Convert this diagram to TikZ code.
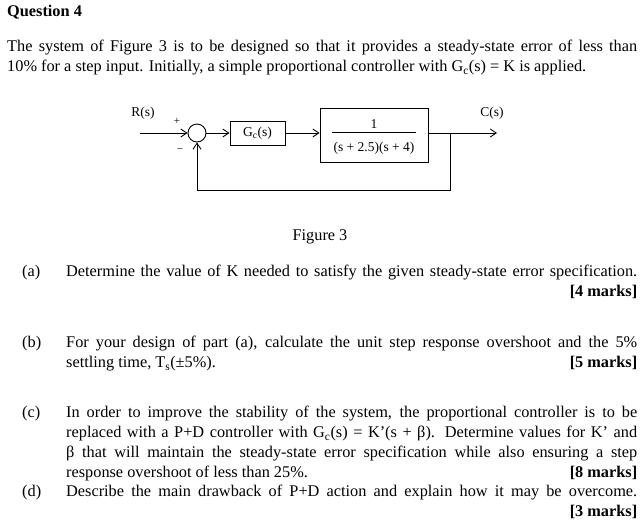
\documentclass[tikz,border=0pt]{standalone}
\usepackage{fontspec}
\setmainfont{Liberation Serif}
\usetikzlibrary{arrows.meta}
\begin{document}
\begin{tikzpicture}[x=1pt,y=-1pt,
  blk/.style={draw,line width=0.8pt,inner sep=0pt},
  ln/.style={line width=0.9pt},
  ar/.style={ln,-{Straight Barb[length=6pt,width=8pt]}},
  lab/.style={font=\fontsize{13.5}{15}\selectfont,inner sep=0pt},
  txt/.style={anchor=north west,inner sep=0pt,align=justify,font=\fontsize{16.3}{20}\selectfont}]
\useasboundingbox (0,0) rectangle (644,523);
\node[anchor=west,inner sep=0pt,font=\fontsize{16.3}{18}\selectfont\bfseries] (q) at (7,12) {Question 4};
\node[txt,text width=630pt] (p) at (7,40) {The system of Figure 3 is to be designed so that it provides a steady-state error of less than\linebreak 10\% for a step input. Initially, a simple proportional controller with G\textsubscript{c}(s) = K is applied.};
% diagram
\node[draw,circle,ln,minimum size=18pt,inner sep=0pt] (sum) at (197,133) {};
\node[blk,minimum width=55pt,minimum height=24pt,lab] (gc) at (257.5,133) {G\textsubscript{c}(s)};
\node[blk,minimum width=108pt,minimum height=54pt] (g) at (374,135) {};
\node[lab] (num) at (374,124) {1};
\node[lab] (den) at (374,148) {(s + 2.5)(s + 4)};
\draw[line width=0.6pt] (num.south) ++(-42,4) coordinate (fa) -- ++(84,0) coordinate (fb);
\coordinate (in) at (140,133);
\coordinate (out) at (497,133);
\coordinate (br) at (450,133);
\coordinate (bb) at (450,190);
\coordinate (bl) at (197,190);
\node[lab] (R) at (143,113) {R(s)};
\node[lab] (C) at (492,113) {C(s)};
\node[lab,font=\fontsize{11}{12}\selectfont] (plus) at (177,121) {+};
\node[lab,font=\fontsize{11}{12}\selectfont] (minus) at (180,151) {\textminus};
\draw[ar] (in) -- (sum.west);
\draw[ar] (sum.east) -- (gc.west);
\draw[ar] (gc.east) -- (g.west|-gc.east);
\draw[ar] (g.east|-br) -- (out);
\draw[ar] (br) -- (bb) -- (bl) -- (sum.south);
\node[inner sep=0pt,font=\fontsize{16.3}{18}\selectfont] (fig) at (320,237) {Figure 3};
% questions
\tikzset{lbl/.style={anchor=north west,inner sep=0pt,font=\fontsize{16.3}{20}\selectfont}}
\node[lbl] (la) at (22,265) {(a)};
\node[txt,text width=571pt] (ta) at (66,265) {Determine the value of K needed to satisfy the given steady-state error specification.\linebreak \mbox{}\hfill\textbf{[4 marks]}};
\node[lbl] (lb) at (22,336) {(b)};
\node[txt,text width=571pt] (tb) at (66,336) {For your design of part (a), calculate the unit step response overshoot and the 5\%\linebreak settling time, T\textsubscript{s}(±5\%).\hfill\textbf{[5 marks]}};
\node[lbl] (lc) at (22,406) {(c)};
\node[txt,text width=571pt] (tc) at (66,406) {In order to improve the stability of the system, the proportional controller is to be\linebreak replaced with a P+D controller with G\textsubscript{c}(s) = K’(s + β). Determine values for K’ and\linebreak β that will maintain the steady-state error specification while also ensuring a step\linebreak response overshoot of less than 25\%.\hfill\textbf{[8 marks]}};
\node[lbl] (ld) at (22,485) {(d)};
\node[txt,text width=571pt] (td) at (66,485) {Describe the main drawback of P+D action and explain how it may be overcome.\linebreak \mbox{}\hfill\textbf{[3 marks]}};
\end{tikzpicture}
\end{document}
